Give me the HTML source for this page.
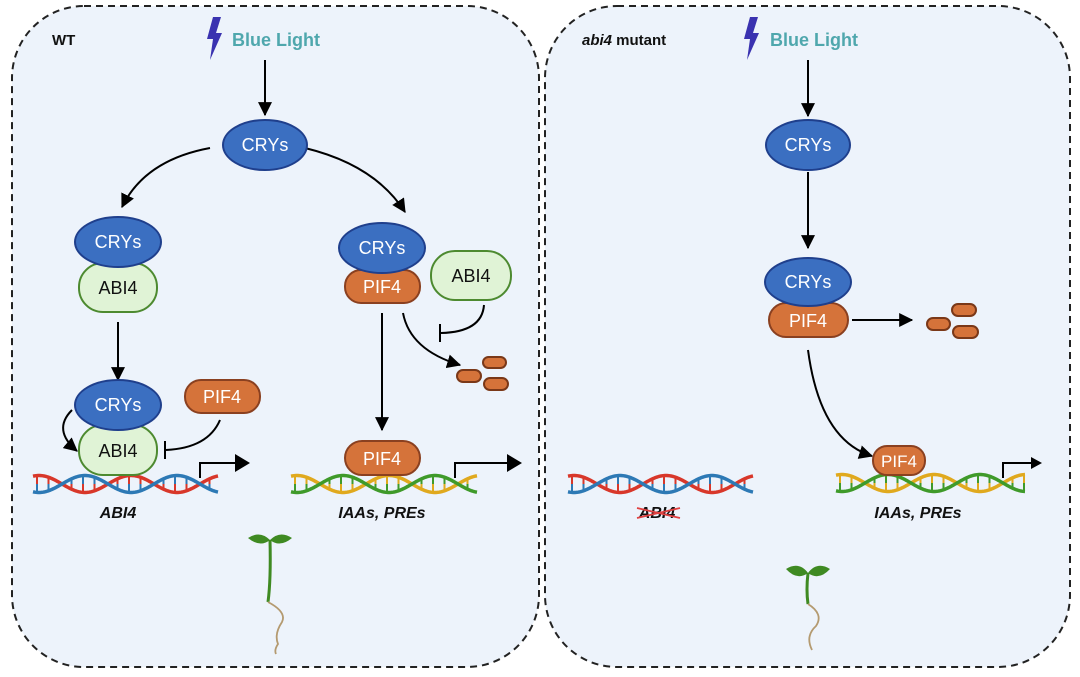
<!DOCTYPE html>
<html><head><meta charset="utf-8"><style>
html,body{margin:0;padding:0;background:#fff;}
svg{display:block;font-family:"Liberation Sans",sans-serif;}
.w{fill:#fff;font-size:18px;text-anchor:middle;}
.k{fill:#111;font-size:18px;text-anchor:middle;}
.lbl{font-weight:bold;font-style:italic;font-size:16px;text-anchor:middle;fill:#111;}
</style></head><body>
<svg id="s" width="1080" height="677" viewBox="0 0 1080 677" xmlns="http://www.w3.org/2000/svg">
<defs>
<marker id="ar" markerWidth="14" markerHeight="14" refX="11" refY="6" orient="auto" markerUnits="userSpaceOnUse" viewBox="0 0 12 12">
<path d="M0,0 L12,6 L0,12 z" fill="#000"/></marker>
</defs>
<rect x="12" y="6" width="527" height="661" rx="72" fill="#edf3fb" stroke="#222" stroke-width="2" stroke-dasharray="7,5"/>
<rect x="545" y="6" width="525" height="661" rx="72" fill="#edf3fb" stroke="#222" stroke-width="2" stroke-dasharray="7,5"/>

<text x="52" y="45" font-weight="bold" font-size="15" fill="#111">WT</text>
<text x="582" y="45" font-weight="bold" font-size="15" fill="#111"><tspan font-style="italic">abi4</tspan> mutant</text>
<path d="M213,17 L221,17 L216,33 L222,33 L210,60 L213,39 L207,39 Z" fill="#3a32b0"/>
<text x="232" y="46" font-weight="bold" font-size="18" fill="#4fa7ad">Blue Light</text>
<path d="M750,17 L758,17 L753,33 L759,33 L747,60 L750,39 L744,39 Z" fill="#3a32b0"/>
<text x="770" y="46" font-weight="bold" font-size="18" fill="#4fa7ad">Blue Light</text>

<g stroke="#000" stroke-width="2" fill="none">
<line x1="265" y1="60" x2="265" y2="115" marker-end="url(#ar)"/>
<path d="M210,148 Q145,160 122,207" marker-end="url(#ar)"/>
<path d="M305,148 Q375,165 405,212" marker-end="url(#ar)"/>
<line x1="118" y1="322" x2="118" y2="380" marker-end="url(#ar)"/>
<path d="M72,410 Q52,430 77,451" marker-end="url(#ar)"/>
<path d="M220,420 Q208,448 166,450"/>
<line x1="165" y1="441" x2="165" y2="459"/>
<line x1="382" y1="313" x2="382" y2="430" marker-end="url(#ar)"/>
<path d="M403,313 Q410,350 460,365" marker-end="url(#ar)"/>
<path d="M484,305 Q482,332 441,333"/>
<line x1="440" y1="324" x2="440" y2="342"/>
<path d="M200,478 L200,463 L236,463"/>
<path d="M455,478 L455,463 L508,463"/>
<line x1="808" y1="60" x2="808" y2="116" marker-end="url(#ar)"/>
<line x1="808" y1="172" x2="808" y2="248" marker-end="url(#ar)"/>
<line x1="852" y1="320" x2="912" y2="320" marker-end="url(#ar)"/>
<path d="M808,350 Q820,440 872,456" marker-end="url(#ar)"/>
<path d="M1003,478 L1003,463 L1033,463"/>
</g>
<path d="M235,454 L250,463 L235,472 Z" fill="#000"/>
<path d="M507,454 L522,463 L507,472 Z" fill="#000"/>
<path d="M1031,457 L1042,463 L1031,469 Z" fill="#000"/>

<g id="dna"></g>

<g stroke-width="2">
<ellipse cx="265" cy="145" rx="42" ry="25" fill="#3b6fc1" stroke="#1f3f8c"/>
<rect x="79" y="263" width="78" height="49" rx="24" fill="#e0f3d6" stroke="#4d8a30"/>
<ellipse cx="118" cy="242" rx="43" ry="25" fill="#3b6fc1" stroke="#1f3f8c"/>
<rect x="79" y="425" width="78" height="50" rx="24" fill="#e0f3d6" stroke="#4d8a30"/>
<ellipse cx="118" cy="405" rx="43" ry="25" fill="#3b6fc1" stroke="#1f3f8c"/>
<rect x="185" y="380" width="75" height="33" rx="16" fill="#d5733a" stroke="#8a4020"/>
<rect x="345" y="270" width="75" height="33" rx="16" fill="#d5733a" stroke="#8a4020"/>
<ellipse cx="382" cy="248" rx="43" ry="25" fill="#3b6fc1" stroke="#1f3f8c"/>
<rect x="431" y="251" width="80" height="49" rx="24" fill="#e0f3d6" stroke="#4d8a30"/>
<rect x="345" y="441" width="75" height="34" rx="17" fill="#d5733a" stroke="#8a4020"/>
<ellipse cx="808" cy="145" rx="42" ry="25" fill="#3b6fc1" stroke="#1f3f8c"/>
<rect x="769" y="303" width="79" height="34" rx="17" fill="#d5733a" stroke="#8a4020"/>
<ellipse cx="808" cy="282" rx="43" ry="24" fill="#3b6fc1" stroke="#1f3f8c"/>
<rect x="873" y="446" width="52" height="29" rx="14" fill="#d5733a" stroke="#8a4020"/>
</g>
<g fill="#d5733a" stroke="#7a3818" stroke-width="2">
<rect x="457" y="370" width="24" height="12" rx="6"/><rect x="483" y="357" width="23" height="11" rx="5.5"/><rect x="484" y="378" width="24" height="12" rx="6"/>
<rect x="927" y="318" width="23" height="12" rx="6"/><rect x="952" y="304" width="24" height="12" rx="6"/><rect x="953" y="326" width="25" height="12" rx="6"/>
</g>
<text class="w" x="265" y="151">CRYs</text>
<text class="w" x="118" y="248">CRYs</text>
<text class="k" x="118" y="294">ABI4</text>
<text class="w" x="118" y="411">CRYs</text>
<text class="k" x="118" y="457">ABI4</text>
<text class="w" x="222" y="403">PIF4</text>
<text class="w" x="382" y="254">CRYs</text>
<text class="w" x="382" y="293">PIF4</text>
<text class="k" x="471" y="282">ABI4</text>
<text class="w" x="382" y="465">PIF4</text>
<text class="w" x="808" y="151">CRYs</text>
<text class="w" x="808" y="288">CRYs</text>
<text class="w" x="808" y="327">PIF4</text>
<text class="w" x="899" y="467" style="font-size:17px">PIF4</text>

<text class="lbl" x="118" y="518">ABI4</text>
<text class="lbl" x="382" y="518">IAAs, PREs</text>
<text class="lbl" x="657" y="518">ABI4</text>
<path d="M637,508 L680,518 M637,518 L680,508" stroke="#e04040" stroke-width="1.8"/>
<text class="lbl" x="918" y="518">IAAs, PREs</text>

<g>
<path d="M270,540 Q271,580 268,602" stroke="#3f8a22" stroke-width="3" fill="none"/>
<path d="M268,602 Q287,612 282,622 Q274,634 278,644 Q274,650 276,654" stroke="#b49a70" stroke-width="1.8" fill="none"/>
<path d="M270,540 Q260,530 248,538 Q260,548 270,540 Q280,530 292,538 Q280,548 270,540Z" fill="#3f8a22"/>
<path d="M808,573 Q806,590 808,604" stroke="#3f8a22" stroke-width="3" fill="none"/>
<path d="M808,604 Q824,614 816,626 Q805,636 812,650" stroke="#b49a70" stroke-width="1.8" fill="none"/>
<path d="M808,573 Q799,561 786,569 Q797,581 808,573 Q817,561 830,569 Q819,581 808,573Z" fill="#3f8a22"/>
</g>
</svg>
<script>
(function(){
var g=document.getElementById('dna'),NS='http://www.w3.org/2000/svg';
function dna(x0,x1,cy,c1,c2,cross,hp){
  var A=8.5;
  function y(x,s){return cy+s*A*Math.sin(Math.PI*(x-cross)/hp);}
  for(var x=x0+4;x<x1;x+=hp/4){
    var ya=y(x,1),yb=y(x,-1);
    if(Math.abs(ya-yb)<5)continue;
    var m=(ya+yb)/2;
    [[ya,m,c1],[m,yb,c2]].forEach(function(p){
      var l=document.createElementNS(NS,'line');
      l.setAttribute('x1',x);l.setAttribute('x2',x);l.setAttribute('y1',p[0]);l.setAttribute('y2',p[1]);
      l.setAttribute('stroke',p[2]);l.setAttribute('stroke-width','2');g.appendChild(l);});
  }
  [[1,c1],[-1,c2]].forEach(function(s){
    var d='';for(var x=x0;x<=x1;x+=1){d+=(x==x0?'M':'L')+x+','+y(x,s[0]).toFixed(2);}
    var p=document.createElementNS(NS,'path');p.setAttribute('d',d);p.setAttribute('fill','none');
    p.setAttribute('stroke',s[1]);p.setAttribute('stroke-width','3.5');g.appendChild(p);});
}
dna(33,218,484,'#d8372a','#2d79b5',62,46);
dna(291,477,484,'#e0a91e','#3f9a2a',320,46);
dna(568,753,484,'#d8372a','#2d79b5',597,46);
dna(836,1025,483,'#e0a91e','#3f9a2a',865,46);
})();
</script>
</body></html>
